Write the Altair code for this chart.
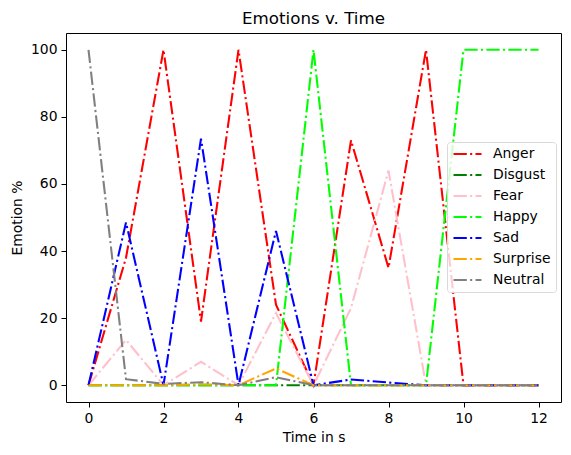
import pandas as pd
import altair as alt

# --- dati ---
time_s = [0, 1, 2, 3, 4, 5, 6, 7, 8, 9, 10, 11, 12]
anger = [0, 38, 100, 19, 100, 24, 0, 73, 35, 100, 0, 0, 0]
disgust = [0, 0, 0, 0, 0, 0, 0, 0, 0, 0, 0, 0, 0]
fear = [0, 13.5, 0, 7, 0, 21.5, 0, 23, 64, 0, 0, 0, 0]
happy = [0, 0, 0, 0, 0, 0, 100, 0, 0, 0, 100, 100, 100]
sad = [0, 48.5, 0, 73.5, 0, 46, 0, 1.7, 0.8, 0, 0, 0, 0]
surprise = [0, 0, 0, 0.3, 0, 5, 0, 0, 0, 0, 0, 0, 0]
neutral = [100, 1.8, 0.4, 0.9, 0, 2.4, 0, 0, 0, 0, 0, 0, 0]

emotions = ["Anger", "Disgust", "Fear", "Happy", "Sad", "Surprise", "Neutral"]
colors = ["#ff0000", "#008000", "#ffc0cb", "#00ff00", "#0000ff", "#ffa500", "#808080"]
series = [anger, disgust, fear, happy, sad, surprise, neutral]

rows = []
for k, (name, vals) in enumerate(zip(emotions, series)):
    for t, v in zip(time_s, vals):
        rows.append({"Time": t, "Emotion": name, "Value": v, "k": k})
df = pd.DataFrame(rows)

dash = [13.3, 3.3, 2.1, 3.3]
FONT = "DejaVu Sans"

chart = alt.Chart(df).mark_line(strokeWidth=2.08, strokeDash=dash).encode(
    x=alt.X("Time:Q", title="Time in s",
            scale=alt.Scale(domain=[-0.6, 12.6], nice=False, zero=False),
            axis=alt.Axis(values=[0, 2, 4, 6, 8, 10, 12], format="d", titlePadding=6)),
    y=alt.Y("Value:Q", title="Emotion %",
            scale=alt.Scale(domain=[-5, 105], nice=False, zero=False),
            axis=alt.Axis(values=[0, 20, 40, 60, 80, 100], titlePadding=6)),
    color=alt.Color("Emotion:N",
                    scale=alt.Scale(domain=emotions, range=colors),
                    sort=emotions,
                    legend=alt.Legend(
                        title=None, orient="none", legendX=381, legendY=109,
                        symbolType="stroke", symbolSize=784, symbolStrokeWidth=2.08,
                        symbolDash=dash, labelFontSize=13.9, labelFont=FONT,
                        labelColor="black", clipHeight=14, rowPadding=7, labelOffset=10,
                        fillColor="rgba(255,255,255,0.8)", strokeColor="#d9d9d9",
                        cornerRadius=3, padding=5)),
    order=alt.Order("k:Q"),
).properties(
    width=495,
    height=369,
    title=alt.Title("Emotions v. Time", fontSize=16.7, font=FONT,
                    fontWeight="normal", color="black", offset=5),
    padding={"left": 58, "top": 25, "right": 2, "bottom": 46},
    autosize=alt.AutoSizeParams(type="none"),
).configure_view(
    stroke="black", strokeWidth=1
).configure_axis(
    grid=False, domain=False, tickColor="black", tickSize=5, tickWidth=1,
    labelFont=FONT, labelFontSize=13.9, labelColor="black", labelPadding=4,
    titleFont=FONT, titleFontSize=13.9, titleColor="black", titleFontWeight="normal",
)

chart.save("out.html", embed_options={"renderer": "svg", "actions": False})
